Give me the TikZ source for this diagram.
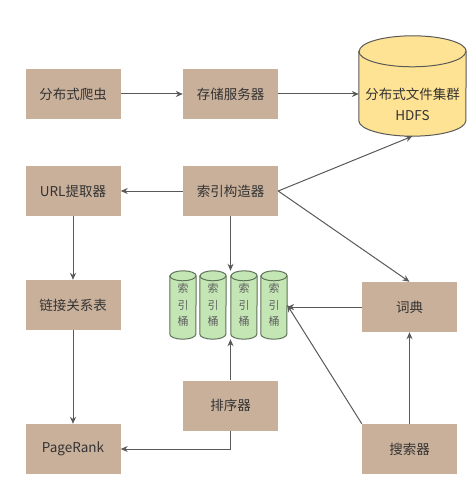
\documentclass[tikz,border=0pt]{standalone}
\usepackage{fontspec}
\setmainfont{Noto Sans CJK SC}
\usetikzlibrary{arrows.meta,backgrounds}

\definecolor{boxfill}{HTML}{C9B09A}
\definecolor{linecol}{HTML}{595959}
\definecolor{textcol}{HTML}{333333}
\definecolor{hdfsfill}{HTML}{FFE394}
\definecolor{bucketfill}{HTML}{C4E6B5}
\definecolor{bucketline}{HTML}{5E7259}
\definecolor{buckettext}{HTML}{5F5F5F}

% drum outline round a node: name, x radius, y radius, fill, line
\newcommand{\drum}[5]{%
  \path[fill=#4, draw=#5, line width=1pt]
    ([yshift=-#3]#1.north west) -- ([yshift=#3]#1.south west)
    arc[start angle=180, end angle=360, x radius=#2, y radius=#3]
    -- ([yshift=-#3]#1.north east)
    arc[start angle=0, end angle=180, x radius=#2, y radius=#3] -- cycle;
  \draw[draw=#5, line width=1pt] ([yshift=-#3]#1.north west)
    arc[start angle=180, end angle=360, x radius=#2, y radius=#3];}

\begin{document}
\begin{tikzpicture}[x=1pt, y=1pt,
  box/.style={rectangle, fill=boxfill, inner sep=0pt, minimum width=95pt, minimum height=50pt, text=textcol, font=\fontsize{13.5}{16}\selectfont},
  drumbox/.style={rectangle, inner sep=0pt, text=textcol, font=\fontsize{13.5}{21}\selectfont, align=center},
  bucket/.style={rectangle, inner sep=0pt, minimum width=26pt, minimum height=68pt, text=buckettext, font=\fontsize{11}{16.5}\selectfont, align=center},
  link/.style={draw=linecol, line width=1pt, -{Stealth[length=7pt,width=6pt]}}]

\useasboundingbox (0,0) rectangle (474,-481);

% first row
\node[box] (crawler) at (73,-94) {分布式爬虫};
\node[box] (store) at (230.5,-94) {存储服务器};
\node[drumbox, minimum width=107pt, minimum height=100pt] (hdfs) at (412.5,-86) {};
\node[drumbox] (hdfstext) at (412.5,-104) {分布式文件集群\\HDFS};

% second row
\node[box] (url) at (73,-191) {URL提取器};
\node[box] (builder) at (230.5,-191) {索引构造器};

% index buckets
\foreach \i/\x in {1/183, 2/213, 3/244, 4/274}
  \node[bucket] (b\i) at (\x,-305) {索\\引\\桶};

\node[box] (linktab) at (73,-305) {链接关系表};
\node[box] (dict) at (409.5,-307) {词典};
\node[box] (sorter) at (230.5,-405.5) {排序器};
\node[box] (pagerank) at (73,-449) {PageRank};
\node[box] (searcher) at (409.5,-449) {搜索器};

\begin{scope}[on background layer]
  \drum{hdfs}{53.5pt}{15.5pt}{hdfsfill}{linecol}
  \foreach \i in {1,...,4}{
    \drum{b\i}{13pt}{5pt}{bucketfill}{bucketline}
  }
\end{scope}

% connectors
\draw[link] (crawler) -- (store);
\draw[link] (store) -- (hdfs.west |- store.east);
\draw[link] (builder.east) -- (hdfs.south);
\draw[link] (builder) -- (url);
\draw[link] (builder.east) -- (dict.north);
\draw[link] (builder.south) -- (builder.south |- b3.north);
\draw[link] (url) -- (linktab);
\draw[link] (linktab) -- (pagerank);
\draw[link] (sorter) -- (sorter.north |- b3.south);
\draw[link] (sorter.south) |- (pagerank.east);
\draw[link] (dict.west) -- (b4.east |- dict.west);
\draw[link] (searcher.north west) -- (b4.east);
\draw[link] (searcher) -- (dict);
\end{tikzpicture}
\end{document}
